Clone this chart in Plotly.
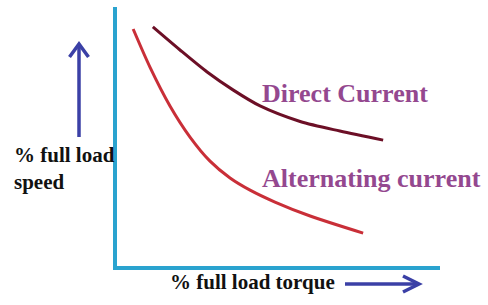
import plotly.graph_objects as go

# % full load torque vs % full load speed
dc_torque = [11.1, 19.5, 27.9, 35.9, 44.3, 56.7, 69.0, 82.4]
dc_speed = [92.3, 83.4, 74.9, 68.0, 61.8, 55.8, 52.1, 48.6]

ac_torque = [5.0, 10.2, 16.4, 22.6, 28.8, 35.0, 41.2, 48.9, 59.8, 76.2]
ac_speed = [91.5, 76.8, 61.8, 49.8, 40.5, 34.0, 29.3, 24.7, 19.3, 12.7]

W, H = 488, 305
L, R, T, B = 117, 48, 7, 39
PW, PH = W - L - R, H - T - B


def px(x):
    return (x - L) / PW


def py(y):
    return (H - B - y) / PH


fig = go.Figure()
fig.add_trace(go.Scatter(x=dc_torque, y=dc_speed, mode="lines",
                         line=dict(color="#6c0f26", width=3, shape="spline", smoothing=0.8),
                         showlegend=False, hoverinfo="skip"))
fig.add_trace(go.Scatter(x=ac_torque, y=ac_speed, mode="lines",
                         line=dict(color="#c92f38", width=3, shape="spline", smoothing=0.8),
                         showlegend=False, hoverinfo="skip"))

arrow_col = "#3b40a6"
shapes = []
# up arrow
shapes.append(dict(type="line", xref="paper", yref="paper",
                   x0=px(79), y0=py(137), x1=px(79), y1=py(44),
                   line=dict(color=arrow_col, width=3.5)))
shapes.append(dict(type="path", xref="paper", yref="paper",
                   path=f"M {px(69.5)} {py(57)} L {px(79)} {py(44)} L {px(88.5)} {py(57)}",
                   line=dict(color=arrow_col, width=3.5)))
# right arrow
shapes.append(dict(type="line", xref="paper", yref="paper",
                   x0=px(345), y0=py(284), x1=px(419), y1=py(284),
                   line=dict(color=arrow_col, width=3.5)))
shapes.append(dict(type="path", xref="paper", yref="paper",
                   path=f"M {px(403)} {py(276)} L {px(419)} {py(284)} L {px(403)} {py(292)}",
                   line=dict(color=arrow_col, width=3.5)))

serif = "Liberation Serif"
annotations = [
    dict(text="<b>% full load<br>speed</b>", xref="paper", yref="paper",
         x=px(12), y=py(168), xanchor="left", yanchor="middle", align="left",
         showarrow=False, font=dict(family=serif, size=21, color="#111111")),
    dict(text="<b>% full load torque</b>", xref="paper", yref="paper",
         x=px(168), y=py(282), xanchor="left", yanchor="middle",
         showarrow=False, font=dict(family=serif, size=21, color="#111111")),
    dict(text="<b>Direct Current</b>", xref="paper", yref="paper",
         x=px(260), y=py(93), xanchor="left", yanchor="middle",
         showarrow=False, font=dict(family=serif, size=26, color="#94488f")),
    dict(text="<b>Alternating current</b>", xref="paper", yref="paper",
         x=px(260), y=py(178), xanchor="left", yanchor="middle",
         showarrow=False, font=dict(family=serif, size=26, color="#94488f")),
]

axis_common = dict(showline=True, linecolor="#2aa3cf", linewidth=3.5,
                   showgrid=False, zeroline=False, showticklabels=False,
                   ticks="", range=[0, 100], fixedrange=True)

fig.update_layout(
    width=W, height=H,
    margin=dict(l=L, r=R, t=T, b=B),
    paper_bgcolor="white", plot_bgcolor="white",
    font=dict(family=serif),
    xaxis=axis_common, yaxis=axis_common,
    shapes=shapes, annotations=annotations,
    showlegend=False,
)

fig.write_html("out.html", config={"displayModeBar": False})
